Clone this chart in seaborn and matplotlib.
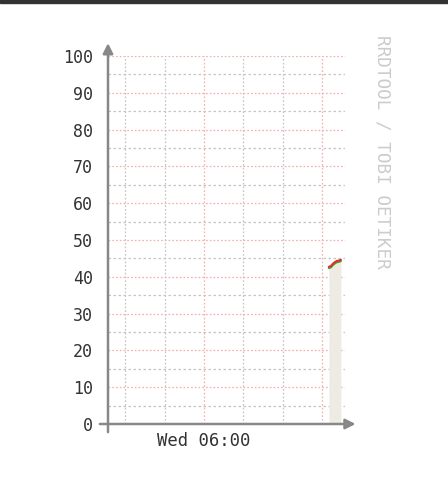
import matplotlib
matplotlib.use("Agg")
import matplotlib.pyplot as plt
import matplotlib.transforms as mtransforms
from matplotlib.patches import Rectangle
import seaborn as sns
import pandas as pd

# hours since Wed 00:00 and the values
hours = [12.36, 12.46, 12.56, 12.67, 12.77, 12.87, 12.97]
values = [42.7, 42.9, 43.5, 44.0, 44.3, 44.4, 44.6]
y_major = list(range(0, 101, 10))
y_labels = [str(v) for v in y_major]
x_major = [6, 12]
x_labels = ["Wed 06:00", ""]
x_minor = [2, 4, 8, 10]
watermark = "RRDTOOL / TOBI OETIKER"

df = pd.DataFrame({"hour": hours, "value": values})

sns.set_style("white")
plt.rcParams["font.family"] = ["DejaVu Sans Mono"]

fig = plt.figure(figsize=(4.48, 4.86), dpi=100)
ax = fig.add_axes([108 / 448, 62 / 486, 237 / 448, 368 / 486])

grid_major = "#f7b0b0"
grid_minor = "#c4c4c4"
axis_col = "#888888"

ax.set_xlim(1.115, 13.18)
ax.set_ylim(0, 100)

# grid
dots = (0, (1.4, 1.6))
for v in range(5, 100, 10):
    ax.axhline(v, color=grid_minor, lw=0.9, ls=(0, (2, 2)), zorder=1)
for v in y_major[1:]:
    ax.axhline(v, color=grid_major, lw=0.9, ls=dots, zorder=1)
for h in x_minor:
    ax.axvline(h, color=grid_minor, lw=0.9, ls=dots, zorder=1)
for h in x_major:
    ax.axvline(h, color=grid_major, lw=0.9, ls=dots, zorder=1)

# area + line
ax.fill_between(df["hour"], df["value"], color="#eeebe4", lw=0, zorder=2)
sns.lineplot(data=df, x="hour", y="value", ax=ax, color="#33b033", lw=1.6, zorder=3)
green = ax.lines[-1]
green.set_transform(mtransforms.offset_copy(ax.transData, fig=fig, x=0, y=-1.2, units="dots"))
sns.lineplot(data=df, x="hour", y="value", ax=ax, color="#e03030", lw=1.6, zorder=4)

# ticks and labels
ax.set_yticks(y_major)
ax.set_yticklabels(y_labels)
ax.set_xticks(x_major)
ax.set_xticklabels(x_labels)
ax.tick_params(axis="y", length=3, color=grid_major, pad=8, labelsize=12, labelcolor="#333333")
ax.tick_params(axis="x", length=3, color=grid_major, pad=2.5, labelsize=12.4, labelcolor="#333333")
ax.set_xlabel("")
ax.set_ylabel("")
for s in ax.spines.values():
    s.set_visible(False)

# axes with arrows
ax.annotate("", xy=(1.115, 103.5), xytext=(1.115, -2.2), xycoords="data",
            arrowprops=dict(arrowstyle="-|>,head_length=0.6,head_width=0.3", color=axis_col, lw=1.8,
                            shrinkA=0, shrinkB=0), annotation_clip=False, zorder=5)
ax.annotate("", xy=(13.72, 0), xytext=(0.7, 0), xycoords="data",
            arrowprops=dict(arrowstyle="-|>,head_length=0.6,head_width=0.3", color=axis_col, lw=1.8,
                            shrinkA=0, shrinkB=0), annotation_clip=False, zorder=5)

# watermark
fig.text(382 / 448, 1 - 152 / 486, watermark, rotation=270, ha="center", va="center",
         fontsize=12.7, color="#cccccc")

# top dark strip
fig.patches.append(Rectangle((0, 1 - 3 / 486), 1, 3 / 486, transform=fig.transFigure,
                             color="#333333", zorder=10))

fig.savefig("out.png", dpi=100)
